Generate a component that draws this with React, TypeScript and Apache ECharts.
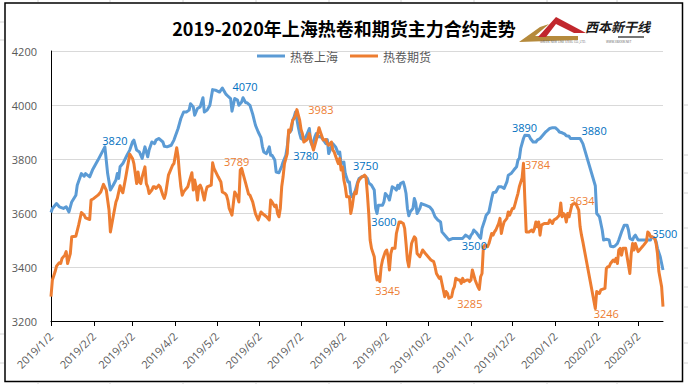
import React, { useEffect, useRef } from "react";
import * as echarts from "echarts";

const TITLE = "2019-2020年上海热卷和期货主力合约走势";
const SERIES_NAMES = ["热卷上海", "热卷期货"];
const Y_MIN = 3200;
const Y_MAX = 4200;
const Y_STEP = 200;
const X_RANGE = ["2019/1/2", "2020/3/20"];
const X_TICK_LABELS = [
  "2019/1/2", "2019/2/2", "2019/3/2", "2019/4/2", "2019/5/2", "2019/6/2", "2019/7/2",
  "2019/8/2", "2019/9/2", "2019/10/2", "2019/11/2", "2019/12/2", "2020/1/2", "2020/2/2", "2020/3/2",
];

// 热卷上海 (spot, Shanghai)
const shanghai: [string, number][] = [
  ["2019/1/2",3602],["2019/1/3",3617],["2019/1/6",3635],["2019/1/8",3623],["2019/1/11",3617],["2019/1/13",3623],["2019/1/15",3604],["2019/1/17",3641],["2019/1/20",3666],["2019/1/21",3703],["2019/1/24",3746],["2019/1/26",3736],["2019/1/27",3746],["2019/1/30",3734],["2019/2/1",3759],["2019/2/5",3796],["2019/2/10",3845],["2019/2/12",3746],["2019/2/14",3685],["2019/2/16",3703],["2019/2/18",3722],["2019/2/19",3746],["2019/2/20",3728],["2019/2/21",3771],["2019/2/23",3783],["2019/2/26",3814],["2019/2/28",3833],
  ["2019/3/2",3863],["2019/3/3",3870],["2019/3/5",3833],["2019/3/7",3826],["2019/3/9",3802],["2019/3/11",3845],["2019/3/13",3808],["2019/3/14",3833],["2019/3/16",3863],["2019/3/18",3857],["2019/3/19",3870],["2019/3/21",3876],["2019/3/24",3863],["2019/3/25",3847],["2019/3/27",3845],["2019/3/30",3851],
  ["2019/4/1",3870],["2019/4/4",3913],["2019/4/6",3950],["2019/4/8",3974],["2019/4/10",3974],["2019/4/12",3981],["2019/4/13",4005],["2019/4/15",3993],["2019/4/16",3962],["2019/4/18",3987],["2019/4/20",3993],["2019/4/22",4027],["2019/4/23",3974],["2019/4/25",3981],["2019/4/27",3999],["2019/4/29",4057],
  ["2019/5/1",4055],["2019/5/4",4048],["2019/5/6",4063],["2019/5/8",4045],["2019/5/9",4038],["2019/5/12",4024],["2019/5/13",3977],["2019/5/15",4024],["2019/5/17",4018],["2019/5/18",3999],["2019/5/20",4011],["2019/5/21",4027],["2019/5/23",4008],["2019/5/24",4008],["2019/5/26",3999],["2019/5/28",3966],["2019/5/30",3925],
  ["2019/6/1",3900],["2019/6/3",3879],["2019/6/4",3847],["2019/6/5",3826],["2019/6/7",3820],["2019/6/9",3845],["2019/6/10",3814],["2019/6/11",3814],["2019/6/13",3796],["2019/6/14",3752],["2019/6/16",3749],["2019/6/18",3773],["2019/6/19",3789],["2019/6/21",3814],["2019/6/22",3845],["2019/6/23",3894],["2019/6/25",3907],["2019/6/26",3944],["2019/6/27",3956],["2019/6/28",3974],["2019/6/30",3919],
  ["2019/7/1",3894],["2019/7/2",3876],["2019/7/4",3870],["2019/7/6",3888],["2019/7/8",3913],["2019/7/9",3863],["2019/7/10",3851],["2019/7/12",3882],["2019/7/13",3894],["2019/7/15",3882],["2019/7/16",3884],["2019/7/18",3872],["2019/7/20",3857],["2019/7/21",3872],["2019/7/22",3820],["2019/7/24",3845],["2019/7/25",3857],["2019/7/27",3845],["2019/7/29",3820],["2019/7/30",3826],["2019/7/31",3783],
  ["2019/8/2",3789],["2019/8/3",3746],["2019/8/5",3715],["2019/8/6",3715],["2019/8/7",3672],["2019/8/8",3660],["2019/8/10",3678],["2019/8/11",3697],["2019/8/12",3715],["2019/8/13",3728],["2019/8/15",3734],["2019/8/17",3736],["2019/8/19",3728],["2019/8/20",3712],["2019/8/22",3703],["2019/8/24",3685],["2019/8/25",3617],["2019/8/26",3598],["2019/8/27",3629],["2019/8/30",3629],["2019/8/31",3641],
  ["2019/9/1",3672],["2019/9/3",3660],["2019/9/4",3648],["2019/9/5",3672],["2019/9/6",3697],["2019/9/8",3691],["2019/9/9",3685],["2019/9/10",3703],["2019/9/11",3691],["2019/9/12",3709],["2019/9/14",3715],["2019/9/15",3697],["2019/9/16",3672],["2019/9/17",3617],["2019/9/18",3590],["2019/9/19",3604],["2019/9/21",3617],["2019/9/22",3654],["2019/9/23",3638],["2019/9/24",3598],["2019/9/26",3617],["2019/9/27",3635],["2019/9/28",3633],["2019/9/30",3629],
  ["2019/10/3",3623],["2019/10/5",3611],["2019/10/7",3586],["2019/10/9",3574],["2019/10/11",3567],["2019/10/12",3530],["2019/10/15",3512],["2019/10/17",3500],["2019/10/20",3506],["2019/10/22",3506],["2019/10/25",3506],["2019/10/27",3506],["2019/10/29",3518],["2019/10/31",3512],
  ["2019/11/1",3506],["2019/11/2",3518],["2019/11/3",3524],["2019/11/4",3537],["2019/11/6",3527],["2019/11/8",3512],["2019/11/9",3506],["2019/11/10",3543],["2019/11/12",3574],["2019/11/13",3592],["2019/11/15",3604],["2019/11/17",3654],["2019/11/18",3675],["2019/11/20",3678],["2019/11/22",3697],["2019/11/24",3697],["2019/11/26",3691],["2019/11/28",3715],["2019/11/29",3740],
  ["2019/12/1",3746],["2019/12/3",3759],["2019/12/5",3771],["2019/12/6",3796],["2019/12/7",3802],["2019/12/8",3839],["2019/12/10",3876],["2019/12/11",3888],["2019/12/14",3887],["2019/12/15",3876],["2019/12/17",3863],["2019/12/19",3863],["2019/12/20",3870],["2019/12/22",3876],["2019/12/24",3888],["2019/12/26",3900],["2019/12/27",3904],["2019/12/29",3913],["2019/12/31",3916],
  ["2020/1/2",3916],["2020/1/4",3907],["2020/1/5",3900],["2020/1/7",3897],["2020/1/9",3892],["2020/1/10",3886],["2020/1/12",3884],["2020/1/13",3876],["2020/1/16",3876],["2020/1/18",3876],["2020/1/20",3876],["2020/1/22",3857],["2020/1/31",3701],
  ["2020/2/1",3598],["2020/2/3",3586],["2020/2/5",3537],["2020/2/6",3500],["2020/2/8",3503],["2020/2/10",3500],["2020/2/11",3477],["2020/2/13",3475],["2020/2/14",3477],["2020/2/16",3487],["2020/2/17",3500],["2020/2/19",3530],["2020/2/21",3555],["2020/2/23",3555],["2020/2/24",3537],["2020/2/25",3506],["2020/2/27",3500],["2020/2/28",3512],["2020/2/29",3518],
  ["2020/3/2",3500],["2020/3/4",3500],["2020/3/6",3500],["2020/3/9",3500],["2020/3/11",3500],["2020/3/12",3512],["2020/3/14",3506],["2020/3/15",3494],["2020/3/16",3469],["2020/3/18",3438],["2020/3/20",3389],
];

// 热卷期货 (futures main contract)
const futures: [string, number][] = [
  ["2019/1/2",3290],["2019/1/3",3352],["2019/1/5",3383],["2019/1/6",3403],["2019/1/8",3416],["2019/1/9",3413],["2019/1/10",3432],["2019/1/12",3444],["2019/1/13",3457],["2019/1/14",3413],["2019/1/16",3450],["2019/1/17",3512],["2019/1/20",3514],["2019/1/22",3555],["2019/1/24",3602],["2019/1/26",3592],["2019/1/27",3582],["2019/1/30",3576],["2019/1/31",3648],
  ["2019/2/2",3654],["2019/2/5",3666],["2019/2/7",3678],["2019/2/9",3706],["2019/2/11",3685],["2019/2/13",3611],["2019/2/14",3530],["2019/2/16",3586],["2019/2/18",3641],["2019/2/19",3654],["2019/2/21",3701],["2019/2/22",3685],["2019/2/23",3675],["2019/2/25",3730],["2019/2/26",3759],["2019/2/28",3818],
  ["2019/3/2",3802],["2019/3/3",3783],["2019/3/5",3709],["2019/3/6",3752],["2019/3/7",3715],["2019/3/8",3709],["2019/3/9",3734],["2019/3/11",3771],["2019/3/12",3709],["2019/3/13",3697],["2019/3/14",3672],["2019/3/16",3685],["2019/3/17",3697],["2019/3/18",3697],["2019/3/19",3691],["2019/3/21",3703],["2019/3/22",3697],["2019/3/24",3666],["2019/3/25",3654],["2019/3/26",3672],["2019/3/28",3740],["2019/3/29",3752],["2019/3/31",3777],
  ["2019/4/1",3783],["2019/4/3",3842],["2019/4/4",3808],["2019/4/5",3746],["2019/4/6",3697],["2019/4/7",3666],["2019/4/8",3678],["2019/4/10",3691],["2019/4/11",3697],["2019/4/12",3715],["2019/4/14",3749],["2019/4/15",3685],["2019/4/16",3722],["2019/4/17",3697],["2019/4/18",3648],["2019/4/19",3697],["2019/4/20",3703],["2019/4/21",3691],["2019/4/23",3648],["2019/4/24",3678],["2019/4/25",3697],["2019/4/28",3703],["2019/4/29",3786],["2019/4/30",3765],
  ["2019/5/3",3734],["2019/5/5",3715],["2019/5/6",3678],["2019/5/8",3672],["2019/5/9",3666],["2019/5/10",3648],["2019/5/11",3617],["2019/5/13",3592],["2019/5/14",3635],["2019/5/15",3678],["2019/5/17",3660],["2019/5/18",3641],["2019/5/19",3759],["2019/5/20",3765],["2019/5/21",3746],["2019/5/23",3709],["2019/5/25",3670],["2019/5/26",3666],["2019/5/28",3641],["2019/5/30",3598],
  ["2019/6/1",3574],["2019/6/3",3604],["2019/6/4",3598],["2019/6/7",3586],["2019/6/9",3574],["2019/6/10",3648],["2019/6/11",3641],["2019/6/13",3623],["2019/6/14",3629],["2019/6/15",3598],["2019/6/16",3586],["2019/6/17",3617],["2019/6/18",3697],["2019/6/19",3734],["2019/6/20",3783],["2019/6/22",3820],["2019/6/23",3907],["2019/6/24",3900],["2019/6/26",3944],["2019/6/27",3950],["2019/6/28",3962],["2019/6/29",3983],
  ["2019/7/1",3944],["2019/7/2",3909],["2019/7/3",3894],["2019/7/4",3863],["2019/7/6",3870],["2019/7/7",3876],["2019/7/8",3894],["2019/7/10",3851],["2019/7/11",3833],["2019/7/13",3870],["2019/7/14",3894],["2019/7/15",3916],["2019/7/16",3900],["2019/7/18",3870],["2019/7/20",3872],["2019/7/21",3857],["2019/7/22",3851],["2019/7/24",3863],["2019/7/25",3833],["2019/7/26",3826],["2019/7/28",3796],["2019/7/29",3783],["2019/7/30",3802],["2019/7/31",3759],
  ["2019/8/1",3771],["2019/8/2",3722],["2019/8/3",3697],["2019/8/4",3660],["2019/8/6",3660],["2019/8/7",3598],["2019/8/8",3623],["2019/8/9",3660],["2019/8/10",3678],["2019/8/11",3672],["2019/8/12",3709],["2019/8/13",3722],["2019/8/15",3734],["2019/8/16",3736],["2019/8/17",3740],["2019/8/18",3734],["2019/8/19",3672],["2019/8/20",3598],["2019/8/21",3500],["2019/8/22",3469],["2019/8/24",3438],["2019/8/25",3383],["2019/8/26",3352],["2019/8/27",3364],["2019/8/28",3346],["2019/8/29",3401],["2019/8/30",3426],
  ["2019/9/1",3457],["2019/9/2",3463],["2019/9/3",3438],["2019/9/4",3389],["2019/9/5",3450],["2019/9/6",3469],["2019/9/8",3469],["2019/9/9",3524],["2019/9/11",3567],["2019/9/12",3567],["2019/9/14",3561],["2019/9/15",3543],["2019/9/16",3487],["2019/9/17",3426],["2019/9/18",3401],["2019/9/20",3487],["2019/9/21",3500],["2019/9/22",3512],["2019/9/23",3506],["2019/9/24",3450],["2019/9/26",3438],["2019/9/27",3450],["2019/9/28",3463],["2019/9/30",3450],
  ["2019/10/2",3438],["2019/10/4",3426],["2019/10/6",3420],["2019/10/7",3401],["2019/10/8",3376],["2019/10/10",3358],["2019/10/11",3364],["2019/10/12",3339],["2019/10/14",3290],["2019/10/15",3309],["2019/10/16",3302],["2019/10/17",3284],["2019/10/19",3290],["2019/10/20",3315],["2019/10/21",3327],["2019/10/22",3358],["2019/10/24",3352],["2019/10/25",3352],["2019/10/26",3339],["2019/10/27",3358],["2019/10/28",3346],["2019/10/30",3352],["2019/10/31",3352],
  ["2019/11/1",3346],["2019/11/2",3352],["2019/11/3",3389],["2019/11/5",3352],["2019/11/6",3339],["2019/11/7",3327],["2019/11/8",3317],["2019/11/9",3364],["2019/11/10",3376],["2019/11/11",3475],["2019/11/12",3481],["2019/11/14",3475],["2019/11/15",3487],["2019/11/17",3524],["2019/11/18",3518],["2019/11/19",3530],["2019/11/20",3537],["2019/11/22",3561],["2019/11/23",3580],["2019/11/24",3524],["2019/11/25",3549],["2019/11/26",3567],["2019/11/28",3580],["2019/11/29",3604],["2019/11/30",3592],
  ["2019/12/2",3617],["2019/12/3",3617],["2019/12/4",3635],["2019/12/5",3654],["2019/12/6",3672],["2019/12/7",3697],["2019/12/9",3730],["2019/12/10",3784],["2019/12/11",3650],["2019/12/12",3530],["2019/12/14",3530],["2019/12/16",3537],["2019/12/17",3530],["2019/12/18",3543],["2019/12/19",3567],["2019/12/20",3549],["2019/12/21",3567],["2019/12/22",3518],["2019/12/23",3555],["2019/12/25",3561],["2019/12/27",3561],["2019/12/28",3561],["2019/12/29",3574],["2019/12/31",3561],
  ["2020/1/1",3574],["2020/1/3",3580],["2020/1/5",3592],["2020/1/6",3637],["2020/1/7",3586],["2020/1/8",3598],["2020/1/9",3592],["2020/1/10",3567],["2020/1/11",3598],["2020/1/12",3586],["2020/1/14",3629],["2020/1/15",3634],["2020/1/17",3634],["2020/1/19",3611],["2020/1/20",3549],["2020/1/21",3518],["2020/1/22",3493],["2020/1/31",3246],
  ["2020/2/1",3309],["2020/2/3",3302],["2020/2/4",3315],["2020/2/5",3317],["2020/2/7",3321],["2020/2/8",3395],["2020/2/9",3401],["2020/2/10",3401],["2020/2/11",3413],["2020/2/13",3426],["2020/2/14",3420],["2020/2/15",3432],["2020/2/16",3413],["2020/2/17",3463],["2020/2/18",3469],["2020/2/19",3444],["2020/2/20",3469],["2020/2/22",3469],["2020/2/23",3438],["2020/2/25",3376],["2020/2/26",3450],["2020/2/27",3487],["2020/2/28",3463],["2020/2/29",3487],
  ["2020/3/2",3457],["2020/3/3",3463],["2020/3/4",3469],["2020/3/5",3475],["2020/3/6",3481],["2020/3/8",3494],["2020/3/9",3530],["2020/3/10",3524],["2020/3/11",3512],["2020/3/12",3512],["2020/3/14",3506],["2020/3/15",3487],["2020/3/16",3450],["2020/3/17",3383],["2020/3/19",3327],["2020/3/20",3253],
];

// data labels: [anchor date on the series, label text]
const shanghaiLabels: [string, string][] = [
  ["2019/2/10", "3820"], ["2019/5/21", "4070"], ["2019/7/4", "3780"], ["2019/8/17", "3750"],
  ["2019/8/31", "3600"], ["2019/11/3", "3500"], ["2019/12/10", "3890"], ["2020/1/20", "3880"], ["2020/3/14", "3500"],
];
const futuresLabels: [string, string][] = [
  ["2019/5/20", "3789"], ["2019/6/29", "3983"], ["2019/8/28", "3345"], ["2019/10/17", "3285"],
  ["2019/12/10", "3784"], ["2020/1/17", "3634"], ["2020/1/31", "3246"],
];
// pixel offsets of each label's centre from its anchor point
const shanghaiLabelOffsets = [[10, -6], [2, -11], [2, 15], [1, -11], [0, 20], [2, 12], [1, -11], [14, -8], [10, -5]];
const futuresLabelOffsets = [[-5, -7], [24, 0], [8, 9], [21, 5], [14, 1], [6, -3], [11, 5]];

const BLUE = "#5B9BD5";
const ORANGE = "#ED7D31";
const BLUE_TEXT = "#0070C0";
const GREY_TEXT = "#595959";
const CJK = "'Noto Sans CJK SC', sans-serif";
const LATIN = "'Open Sans', 'Liberation Sans', sans-serif";

function toTs(s: string): number {
  const [y, m, d] = s.split("/").map(Number);
  return Date.UTC(y, m - 1, d);
}
function fmt(v: number): string {
  const d = new Date(v);
  return `${d.getUTCFullYear()}/${d.getUTCMonth() + 1}/${d.getUTCDate()}`;
}

function markPointFor(series: [string, number][], labels: [string, string][], offsets: number[][], color: string) {
  return {
    silent: true,
    symbol: "rect",
    symbolSize: 1,
    itemStyle: { color: "rgba(0,0,0,0)" },
    label: {
      show: true,
      position: "inside",
      formatter: "{b}",
      color,
      fontSize: 11,
      fontFamily: LATIN,
    },
    data: labels.map(([d, text], i) => {
      const p = series.find((q) => q[0] === d);
      return {
        name: text,
        coord: [toTs(d), p ? p[1] : 0],
        label: { offset: offsets[i] },
      };
    }),
  };
}

export default function App() {
  const ref = useRef<HTMLDivElement>(null);
  useEffect(() => {
    if (!ref.current) return;
    const chart = echarts.init(ref.current, null, { renderer: "svg" });
    const tickValues = X_TICK_LABELS.map(toTs);

    const sheetCols = [38, 110, 183, 256, 329, 401, 474, 547, 617];
    const sheetRowsL = [22, 40, 334, 363];
    const sheetRowsR = [105, 155, 173, 193, 228, 248, 268, 287, 307, 343, 363];
    const sheetLines: any[] = [];
    sheetCols.forEach((x) => {
      sheetLines.push({ type: "line", shape: { x1: x, y1: 0, x2: x, y2: 2 }, style: { stroke: "#d4d4d4", lineWidth: 1 } });
      sheetLines.push({ type: "line", shape: { x1: x, y1: 383, x2: x, y2: 384 }, style: { stroke: "#d4d4d4", lineWidth: 1 } });
    });
    sheetRowsL.forEach((y) => sheetLines.push({ type: "line", shape: { x1: 0, y1: y, x2: 4, y2: y }, style: { stroke: "#d4d4d4", lineWidth: 1 } }));
    sheetRowsR.forEach((y) => sheetLines.push({ type: "line", shape: { x1: 684, y1: y, x2: 688, y2: y }, style: { stroke: "#d4d4d4", lineWidth: 1 } }));

    const option: any = {
      animation: false,
      backgroundColor: "#ffffff",
      textStyle: { fontFamily: LATIN },
      title: {
        text: TITLE,
        left: "center",
        top: 14,
        textStyle: { fontSize: 18, fontWeight: "bold", color: "#000", fontFamily: CJK },
      },
      legend: {
        top: 45,
        left: "center",
        itemWidth: 28,
        itemHeight: 3,
        itemGap: 12,
        icon: "rect",
        textStyle: { fontSize: 12, color: GREY_TEXT, fontFamily: CJK },
        data: SERIES_NAMES,
      },
      grid: { left: 51, right: 25, top: 51, bottom: 63, containLabel: false },
      xAxis: {
        type: "value",
        min: toTs(X_RANGE[0]),
        max: toTs(X_RANGE[1]),
        axisLine: { show: true, onZero: false, lineStyle: { color: "#000", width: 1 } },
        axisTick: { show: true, customValues: tickValues, length: 5, lineStyle: { color: "#000" } },
        axisLabel: {
          customValues: tickValues,
          rotate: 45,
          margin: 13,
          fontSize: 11,
          color: GREY_TEXT,
          fontFamily: LATIN,
          showMinLabel: true,
          showMaxLabel: true,
          formatter: (v: number) => fmt(v),
        },
        splitLine: { show: false },
      },
      yAxis: {
        type: "value",
        min: Y_MIN,
        max: Y_MAX,
        interval: Y_STEP,
        axisLine: { show: true, lineStyle: { color: "#000", width: 1 } },
        axisTick: { show: false },
        axisLabel: { fontSize: 11, color: GREY_TEXT, margin: 14, fontFamily: LATIN, formatter: (v: number) => String(v) },
        splitLine: { show: true, lineStyle: { color: "#d9d9d9", width: 1 } },
      },
      series: [
        {
          name: SERIES_NAMES[0],
          type: "line",
          data: shanghai.map(([d, v]) => [toTs(d), v]),
          showSymbol: false,
          symbol: "none",
          lineStyle: { color: BLUE, width: 3, join: "round" },
          itemStyle: { color: BLUE },
          markPoint: markPointFor(shanghai, shanghaiLabels, shanghaiLabelOffsets, BLUE_TEXT),
          z: 2,
        },
        {
          name: SERIES_NAMES[1],
          type: "line",
          data: futures.map(([d, v]) => [toTs(d), v]),
          showSymbol: false,
          symbol: "none",
          lineStyle: { color: ORANGE, width: 3, join: "round" },
          itemStyle: { color: ORANGE },
          markPoint: markPointFor(futures, futuresLabels, futuresLabelOffsets, ORANGE),
          z: 3,
        },
      ],
      graphic: [
        ...sheetLines,
        {
          type: "rect",
          shape: { x: 5, y: 3, width: 677.5, height: 378.5 },
          style: { fill: "none", stroke: "#000", lineWidth: 1.5 },
          silent: true,
        },
        {
          type: "polygon",
          shape: { points: [[519, 42], [540, 27], [549, 24], [535, 36], [578, 36], [578, 40]] },
          style: { fill: "#B58A3C" },
          silent: true,
        },
        {
          type: "polygon",
          shape: { points: [[538, 37], [556, 17], [586, 33], [574, 33], [556, 24], [546, 37]] },
          style: { fill: "#C1272D" },
          silent: true,
        },
        {
          type: "text",
          x: 585,
          y: 20,
          style: { text: "西本新干线", fontSize: 13, fontWeight: "bold", fontStyle: "italic", fill: "#1a1a1a", fontFamily: CJK },
          silent: true,
        },
        {
          type: "line",
          shape: { x1: 618, y1: 37, x2: 644, y2: 37 },
          style: { stroke: "#1a1a1a", lineWidth: 1.2 },
          silent: true,
        },
        {
          type: "text",
          x: 540,
          y: 40,
          style: { text: "GREEN NEW LINE STEEL CO.,LTD.", fontSize: 3, fill: "#666", fontFamily: LATIN },
          silent: true,
        },
        {
          type: "text",
          x: 606,
          y: 40,
          style: { text: "WWW.XBXXW.NET", fontSize: 3, fill: "#666", fontFamily: LATIN },
          silent: true,
        },
      ],
    };
    chart.setOption(option);
    return () => chart.dispose();
  }, []);
  return (
    <div
      ref={ref}
      style={{ position: "fixed", left: 0, top: 0, width: 688, height: 384, background: "#fff" }}
    />
  );
}
